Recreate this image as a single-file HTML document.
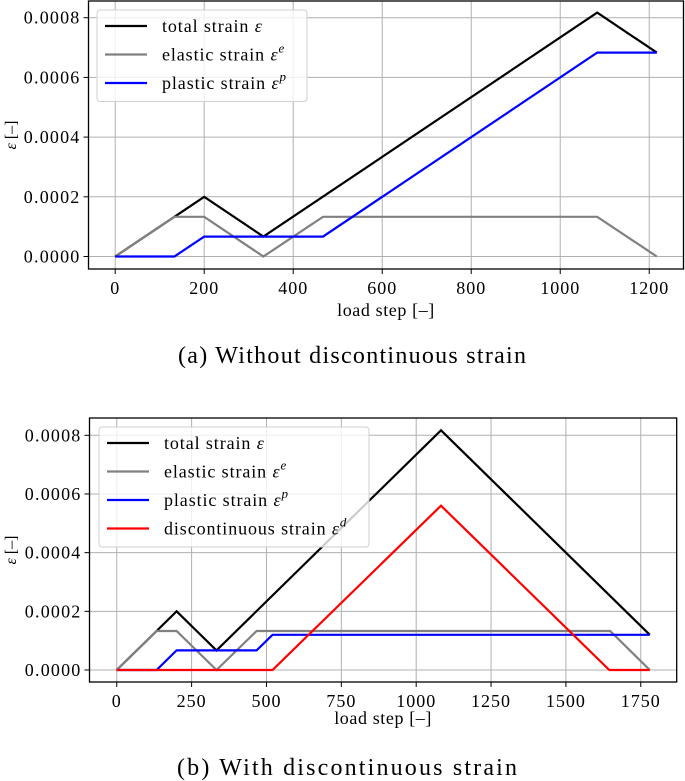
<!DOCTYPE html>
<html><head><meta charset="utf-8"><style>
html,body{margin:0;padding:0;background:#fff;}
svg{display:block;font-family:"Liberation Serif","DejaVu Serif",serif;}
</style></head><body>
<svg id="svg" width="685" height="781" viewBox="0 0 685 781" xmlns="http://www.w3.org/2000/svg"></svg>
<script>
// ---- data: chart (a) ----
const aTotalX = [0,133,200,333,1083,1217];
const aTotalY = [0,0.000133,0.0002,0.0000667,0.000817,0.000683];
const aElasticX = [0,133,200,333,467,1083,1217];
const aElasticY = [0,0.000133,0.000133,0,0.000133,0.000133,0];
const aPlasticX = [0,133,200,467,1083,1217];
const aPlasticY = [0,0,0.0000667,0.0000667,0.000683,0.000683];
const aXTicks = [0,200,400,600,800,1000,1200];
const yTicks = [0,0.0002,0.0004,0.0006,0.0008];
const yTickLabels = ["0.0000","0.0002","0.0004","0.0006","0.0008"];
// ---- data: chart (b) ----
const bTotalX = [0,133,200,333,1083,1780];
const bTotalY = [0,0.000133,0.0002,0.0000667,0.000817,0.00012];
const bElasticX = [0,133,200,333,467,1648,1780];
const bElasticY = [0,0.000133,0.000133,0,0.000133,0.000133,0];
const bPlasticX = [0,133,200,467,520,1780];
const bPlasticY = [0,0,0.0000667,0.0000667,0.00012,0.00012];
const bDiscX = [0,520,1083,1645,1780];
const bDiscY = [0,0,0.00056,0,0];
const bXTicks = [0,250,500,750,1000,1250,1500,1750];

const NS="http://www.w3.org/2000/svg";
const svg=document.getElementById('svg');
function mk(tag,attrs,parent){const e=document.createElementNS(NS,tag);for(const k in attrs)e.setAttribute(k,attrs[k]);(parent||svg).appendChild(e);return e;}

function chart(cfg){
  const g=mk('g',{});
  
  
  const {L,R,T,B,xmin,xmax,ymin,ymax}=cfg;
  const sx=v=>L+(v-xmin)/(xmax-xmin)*(R-L);
  const sy=v=>B-(v-ymin)/(ymax-ymin)*(B-T);
  cfg.xticks.forEach(t=>{
    const l=mk('line',{x1:sx(t),x2:sx(t),y1:T,y2:B,stroke:'#b0b0b0','stroke-width':1},g);
    
    
  });
  yTicks.forEach(t=>{
    const l=mk('line',{x1:L,x2:R,y1:sy(t),y2:sy(t),stroke:'#b0b0b0','stroke-width':1},g);
    
    
  });
  cfg.series.forEach(s=>{
    const pts=s.x.map((v,i)=>sx(v).toFixed(1)+','+sy(s.y[i]).toFixed(1)).join(' ');
    const p=mk('polyline',{points:pts,fill:'none',stroke:s.color,'stroke-width':2.2,'stroke-linejoin':'miter'},g);
    
    
  });
  const fr=mk('rect',{x:L,y:T,width:R-L,height:B-T,fill:'none',stroke:'#000','stroke-width':1.3},g);
  
  
  cfg.xticks.forEach(t=>{
    mk('line',{x1:sx(t),x2:sx(t),y1:B,y2:B+5,stroke:'#000','stroke-width':1},g);
    const tx=mk('text',{x:sx(t),y:B+25,'font-size':18,'letter-spacing':1,'text-anchor':'middle'},g);
    tx.textContent=t;
    
    
  });
  yTicks.forEach((t,i)=>{
    mk('line',{x1:L-5,x2:L,y1:sy(t),y2:sy(t),stroke:'#000','stroke-width':1},g);
    const tx=mk('text',{x:L-8,y:sy(t)+6,'font-size':18,'letter-spacing':1.2,'text-anchor':'end'},g);
    tx.textContent=yTickLabels[i];
    
    
  });
  const xl=mk('text',{x:(L+R)/2,y:cfg.xlabelY,'font-size':18,'letter-spacing':0.6,'text-anchor':'middle'},g);
  xl.textContent='load step [–]';
  
  
  const ycy=(T+B)/2;
  const yl=mk('text',{x:16,y:ycy,'font-size':16,'text-anchor':'middle',transform:`rotate(-90 16 ${ycy})`},g);
  yl.innerHTML='<tspan font-style="italic">ε</tspan> [–]';
  
  
  const lg=mk('g',{},g);
  
  
  mk('rect',{x:cfg.lx,y:cfg.ly,width:cfg.lw,height:cfg.series.length*28.5+6,rx:3,fill:'#fff','fill-opacity':0.8,stroke:'#d0d0d0','stroke-width':1},lg);
  cfg.series.forEach((s,i)=>{
    const y=cfg.ly+16+i*28.5;
    const e=mk('g',{},lg);
    
    
    mk('line',{x1:cfg.lx+8,x2:cfg.lx+50,y1:y,y2:y,stroke:s.color,'stroke-width':2.2},e);
    const t=mk('text',{x:cfg.lx+65,y:y+6,'font-size':18,'letter-spacing':0.9},e);
    t.innerHTML=s.label+' <tspan font-style="italic">ε</tspan>'+(s.sup?'<tspan font-style="italic" font-size="13" dy="-8">'+s.sup+'</tspan>':'');
  });
  const cap=mk('text',{x:cfg.capX,y:cfg.capY,'font-size':24,'text-anchor':'middle',textLength:cfg.capW,lengthAdjust:'spacing'},g);
  cap.textContent=cfg.caption;
  
  
}

chart({name:'chart-a-without-discontinuous',L:88.5,R:683.5,T:1,B:269,xmin:-60,xmax:1277,ymin:-0.0000419,ymax:0.000856,
  xticks:aXTicks,xlabelY:316,lx:97,ly:10,lw:210,capX:352,capY:363,capW:348,caption:'(a) Without discontinuous strain',
  series:[
    {name:'total-strain-line',x:aTotalX,y:aTotalY,color:'#000',label:'total strain'},
    {name:'elastic-strain-line',x:aElasticX,y:aElasticY,color:'#808080',label:'elastic strain',sup:'e'},
    {name:'plastic-strain-line',x:aPlasticX,y:aPlasticY,color:'#0000ff',label:'plastic strain',sup:'p'}
  ]});
chart({name:'chart-b-with-discontinuous',L:89.5,R:676.7,T:418,B:682,xmin:-91,xmax:1870,ymin:-0.0000409,ymax:0.000859,
  xticks:bXTicks,xlabelY:724,lx:99,ly:427,lw:270,capX:347,capY:775,capW:340,caption:'(b) With discontinuous strain',
  series:[
    {name:'total-strain-line',x:bTotalX,y:bTotalY,color:'#000',label:'total strain'},
    {name:'elastic-strain-line',x:bElasticX,y:bElasticY,color:'#808080',label:'elastic strain',sup:'e'},
    {name:'plastic-strain-line',x:bPlasticX,y:bPlasticY,color:'#0000ff',label:'plastic strain',sup:'p'},
    {name:'discontinuous-strain-line',x:bDiscX,y:bDiscY,color:'#ff0000',label:'discontinuous strain',sup:'d'}
  ]});
</script>
</body></html>
